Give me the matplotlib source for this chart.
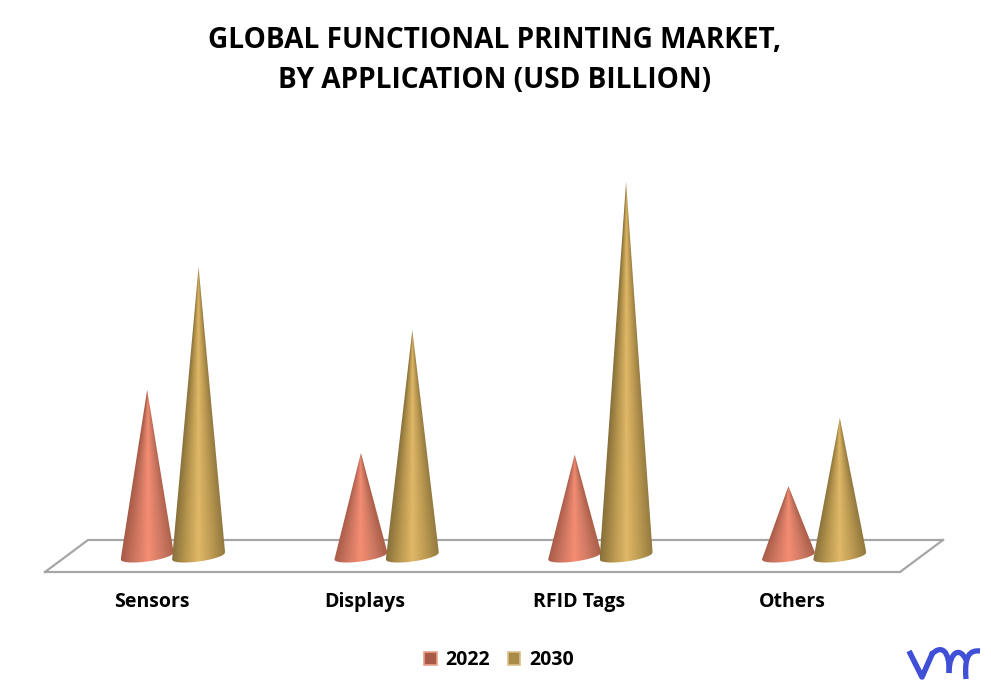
import numpy as np
import matplotlib
matplotlib.use("Agg")
import matplotlib.pyplot as plt
from matplotlib.colors import LinearSegmentedColormap
from matplotlib.patches import Patch, PathPatch
from matplotlib.path import Path

categories = ["Sensors", "Displays", "RFID Tags", "Others"]
values_2022 = [1.95, 1.21, 1.19, 0.82]
values_2030 = [3.39, 2.65, 4.39, 1.62]
years = ["2022", "2030"]

W, H = 991, 692
plt.rcParams["font.family"] = ["Open Sans", "DejaVu Sans"]
plt.rcParams["font.weight"] = "bold"

salmon = LinearSegmentedColormap.from_list("salmon", ["#a65a46", "#cc7560", "#f58d72", "#d07a64", "#ad604b"])
gold = LinearSegmentedColormap.from_list("gold", ["#87703a", "#b7964e", "#e0b868", "#bd9b52", "#957a40"])

fig = plt.figure(figsize=(W / 100, H / 100), dpi=100)

# pixel overlay for the floor, title and logo
bg = fig.add_axes([0, 0, 1, 1])
bg.set_xlim(0, W)
bg.set_ylim(H, 0)
bg.axis("off")
bg.plot([45, 900, 943], [572, 572, 540], color="#a6a6a6", lw=1.6, solid_joinstyle="miter")
bg.plot([45, 88, 943], [572, 540, 540], color="#a6a6a6", lw=1.6, solid_joinstyle="miter")
bg.text(495, 60.5, "GLOBAL FUNCTIONAL PRINTING MARKET,\nBY APPLICATION (USD BILLION)",
        ha="center", va="center", fontsize=20.2, fontweight="bold", color="black", linespacing=1.5)

# chart axes: zero line at y=556px, category spacing 213.75px, a little room below zero for the cone bases
left, right, top, base = 66, 921, 130, 556
yunit = (base - top) / 5
below = 17 / yunit
ax = fig.add_axes([left / W, 1 - (base + 17) / H, (right - left) / W, (base + 17 - top) / H])
ax.patch.set_alpha(0)
for s in ax.spines.values():
    s.set_visible(False)
ax.set_yticks([])

xunit = (right - left) / 4
half = 26.5 / xunit
off = 25.7 / xunit


def cone(cx, h, cmap, z):
    # tilted elliptical base, left edge lower than right
    u = np.linspace(1, -1, 60)
    bx = cx + half * u
    by = (3.5 * u - 5.5 * np.sqrt(1 - u ** 2)) / yunit
    verts = np.vstack([[cx, h], np.column_stack([bx, by]), [cx, h]])
    codes = [Path.MOVETO] + [Path.LINETO] * (len(verts) - 2) + [Path.CLOSEPOLY]
    clip = Path(verts, codes)
    # shade follows the cone surface, so it narrows toward the tip
    xs = np.linspace(cx - half, cx + half, 160)
    ys = np.linspace(-10 / yunit, h, 500)
    X, Y = np.meshgrid(xs, ys)
    width = half * np.clip(1 - Y / h, 0.002, None)
    shade = np.clip(0.5 + 0.5 * (X - cx) / width, 0, 1)
    im = ax.imshow(shade, cmap=cmap, vmin=0, vmax=1, origin="lower", aspect="auto",
                   extent=[xs[0], xs[-1], ys[0], ys[-1]], zorder=z, interpolation="bilinear")
    patch = PathPatch(clip, transform=ax.transData, fc="none", ec="none", zorder=z)
    ax.add_patch(patch)
    im.set_clip_path(patch)


for i in range(len(categories)):
    cone(i - off, values_2022[i], salmon, 3)
    cone(i + off, values_2030[i], gold, 4)
ax.set_xlim(-0.5, 3.5)
ax.set_ylim(-below, 5)

ax.set_xticks(np.arange(len(categories)) - 0.1)
ax.set_xticklabels(categories, fontsize=14, fontweight="bold")
ax.tick_params(axis="x", length=0, pad=13.5)

handles = [Patch(facecolor="#a85a46", edgecolor="#e8a08c", lw=1.2),
           Patch(facecolor="#a98a47", edgecolor="#dcc088", lw=1.2)]
bg.legend(handles, years, loc="center", bbox_to_anchor=(499 / W, 1 - 660 / H), ncol=2, frameon=False,
          handlelength=0.65, handleheight=0.65, handletextpad=0.45, columnspacing=0.9,
          prop={"size": 14, "weight": "bold"})

# logo strokes
logo = "#3f4fd6"
bg.plot([909, 922, 933], [651, 677, 652], color=logo, lw=4, solid_capstyle="butt", solid_joinstyle="round")
arch1 = Path([(931, 655), (941, 644), (950, 650), (949, 673)], [Path.MOVETO, Path.CURVE4, Path.CURVE4, Path.CURVE4])
arch2 = Path([(949, 673), (949, 652), (960, 646), (966, 660)], [Path.MOVETO, Path.CURVE4, Path.CURVE4, Path.CURVE4])
arch3 = Path([(966, 679), (964, 655), (970, 650), (980, 651)], [Path.MOVETO, Path.CURVE4, Path.CURVE4, Path.CURVE4])
for p in [arch1, arch2, arch3]:
    bg.add_patch(PathPatch(p, fc="none", ec=logo, lw=3.8))

fig.savefig("out.png", dpi=100)
